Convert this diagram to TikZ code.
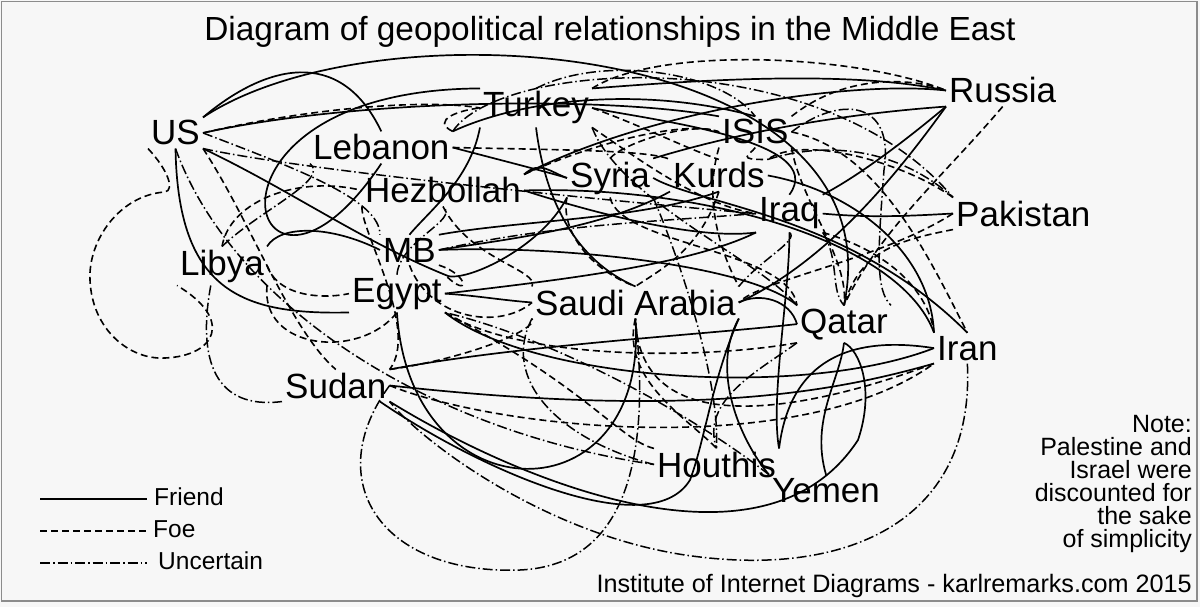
\documentclass[tikz,border=0pt]{standalone}
\usepackage{fontspec}
\setmainfont{Liberation Sans}
\definecolor{bgc}{RGB}{247,247,247}
\definecolor{framec}{RGB}{140,140,140}
\tikzset{
  lbl/.style={font=\fontsize{35}{40}\selectfont, inner sep=3pt, anchor=base west},
  lgd/.style={font=\fontsize{24.5}{28}\selectfont, inner sep=0pt, anchor=base west},
  fr/.style={line width=1.7pt},
  fo/.style={line width=1.6pt, dash pattern=on 7pt off 4pt},
  un/.style={line width=1.5pt, dash pattern=on 10pt off 3pt on 1.5pt off 3pt},
}
\begin{document}
\begin{tikzpicture}[x=1pt,y=-1pt]
\useasboundingbox (0,0) rectangle (1200,607);
\fill[bgc] (0,0) rectangle (1200,607);
\draw[framec, line width=1.2pt] (1.5,1.5) rectangle (1197,601);

% title
\node[font=\fontsize{33.4}{38}\selectfont, inner sep=0pt, anchor=base] (title) at (610,41) {Diagram of geopolitical relationships in the Middle East};

% labels
\node[lbl] (us)   at (148,145) {US};
\node[lbl] (leb)  at (310,160) {Lebanon};
\node[lbl] (tur)  at (480,117) {Turkey};
\node[lbl] (isis) at (719,144) {ISIS};
\node[lbl] (rus)  at (946,103) {Russia};
\node[lbl] (hez)  at (362,203) {Hezbollah};
\node[lbl] (syr)  at (567,187) {Syria};
\node[lbl] (kur)  at (670,188) {Kurds};
\node[lbl] (irq)  at (756,222) {Iraq};
\node[lbl] (pak)  at (953,226) {Pakistan};
\node[lbl] (mb)   at (380,262) {MB};
\node[lbl] (lib)  at (177,275) {Libya};
\node[lbl] (egy)  at (349,302) {Egypt};
\node[lbl] (sau)  at (532,315) {Saudi Arabia};
\node[lbl] (qat)  at (797,333) {Qatar};
\node[lbl] (ira)  at (934,360) {Iran};
\node[lbl] (sud)  at (282,398) {Sudan};
\node[lbl] (hou)  at (654,477) {Houthis};
\node[lbl] (yem)  at (769,502) {Yemen};

% ---------- US
\draw[fr] (us.north east) .. controls (265,65) and (340,45) .. (leb.north);
\draw[fr] (us.north east) .. controls (380,0) and (900,40) .. (qat.north);
\draw[fo] (us.east) .. controls (300,110) and (420,98) .. (tur.west);
\draw[fr] (us.east) .. controls (350,100) and (600,95) .. (isis.north west);
\draw[un] (us.south east) .. controls (300,170) and (600,200) .. (irq.west);
\draw[un] (us.east) .. controls (300,170) and (380,200) .. (mb.north west);
\draw[fr] (us.south east) .. controls (290,190) and (360,240) .. (egy.north east);
\draw[fo] (us.south east) .. controls (250,220) and (290,330) .. (sud.north);
\draw[fr] (us.south) .. controls (178,290) and (240,315) .. (egy.south west);
\draw[un] (us.south) .. controls (230,300) and (420,430) .. (hou.west);
\draw[fo] (us.south west) .. controls (168,170) and (175,190) .. (165,192)
   .. controls (120,195) and (88,240) .. (90,280)
   .. controls (92,330) and (130,360) .. (165,358)
   .. controls (215,356) and (235,320) .. (lib.south west);

% ---------- Libya
\draw[un] (lib.-120) .. controls (197,360) and (215,410) .. (sud.south west);
\draw[fr] (lib.north east) .. controls (280,225) and (330,225) .. (mb.west);
\draw[fo] (lib.north) .. controls (230,200) and (300,175) .. (hez.west);
\draw[fo] (lib.east) .. controls (280,300) and (330,298) .. (egy.west);
\draw[fo] (lib.south east) .. controls (260,350) and (360,360) .. (egy.south);
\draw[un] (lib.north) .. controls (260,210) and (330,180) .. (leb.south west);

% ---------- Lebanon
\draw[fr] (leb.south) .. controls (250,360) and (170,90) .. (tur.north west);
\draw[un] (leb.north east) .. controls (500,60) and (820,40) .. (pak.north west);
\draw[fo] (leb.north east) .. controls (430,120) and (460,110) .. (tur.west);
\draw[fr] (leb.north east) .. controls (520,100) and (640,85) .. (isis.north);
\draw[fr] (leb.east) .. controls (500,160) and (540,170) .. (syr.west);
\draw[fo] (leb.east) .. controls (560,150) and (650,150) .. (kur.north west);

% ---------- Turkey
\draw[fr] (tur.east) .. controls (650,120) and (830,140) .. (irq.north);
\draw[fr] (tur.south) .. controls (545,200) and (575,260) .. (sau.north);
\draw[fr] (tur.south west) .. controls (470,180) and (430,210) .. (mb.north);
\draw[fr] (tur.north east) .. controls (700,80) and (850,70) .. (rus.west);
\draw[fo] (tur.north east) .. controls (660,45) and (860,55) .. (rus.west);
\draw[un] (tur.north) .. controls (600,55) and (720,70) .. (isis.north);
\draw[fo] (tur.east) .. controls (640,125) and (690,150) .. (kur.north);
\draw[fo] (tur.south east) .. controls (640,160) and (700,205) .. (irq.west);
\draw[un] (tur.south east) .. controls (620,200) and (760,260) .. (qat.north west);

% ---------- Hezbollah
\draw[fr] (hez.east) .. controls (600,215) and (700,240) .. (irq.south west);
\draw[fr] (hez.east) .. controls (700,185) and (900,240) .. (ira.north west);
\draw[fr] (hez.north east) .. controls (650,110) and (850,80) .. (rus.west);
\draw[fo] (hez.south) .. controls (470,260) and (540,270) .. (sau.north west);
\draw[fr] (hez.north east) .. controls (540,160) and (550,172) .. (syr.west);
\draw[fo] (hez.north east) .. controls (600,140) and (690,120) .. (isis.west);
\draw[fo] (hez.south west) .. controls (360,230) and (420,330) .. (sud.north east);

% ---------- Syria
\draw[fr] (syr.east) .. controls (700,205) and (850,215) .. (ira.north);
\draw[fr] (syr.north east) .. controls (780,120) and (900,110) .. (rus.south west);
\draw[fo] (syr.south) .. controls (620,245) and (790,250) .. (qat.north west);
\draw[fo] (syr.south west) .. controls (560,230) and (590,270) .. (sau.north);
\draw[fo] (syr.north) .. controls (620,145) and (690,120) .. (isis.west);
\draw[fr] (syr.south west) .. controls (540,250) and (460,285) .. (egy.north east);
\draw[un] (syr.south east) .. controls (680,260) and (720,380) .. (hou.north);

% ---------- ISIS
\draw[fo] (isis.east) .. controls (880,150) and (930,260) .. (ira.north);
\draw[fo] (isis.south) .. controls (750,155) and (735,160) .. (kur.north east);
\draw[fo] (isis.north east) .. controls (850,70) and (920,80) .. (rus.west);
\draw[fo] (isis.south west) .. controls (700,210) and (730,270) .. (sau.north east);
\draw[un] (isis.east) .. controls (840,95) and (895,100) .. (884,170)
   .. controls (878,250) and (875,290) .. (qat.north east);
\draw[fo] (isis.south east) .. controls (800,200) and (850,260) .. (qat.north);

% ---------- Kurds
\draw[fo] (kur.south) .. controls (700,250) and (660,270) .. (sau.north);
\draw[fr] (kur.east) .. controls (850,190) and (930,250) .. (ira.north west);
\draw[fr] (kur.south west) .. controls (600,230) and (500,240) .. (mb.east);
\draw[un] (kur.north east) .. controls (830,140) and (900,150) .. (pak.north west);

% ---------- Iraq / Russia
\draw[fr] (irq.east) .. controls (870,218) and (910,216) .. (pak.west);
\draw[fr] (irq.north east) .. controls (870,170) and (930,120) .. (rus.south west);
\draw[fr] (rus.south west) .. controls (900,170) and (830,260) .. (sau.east);
\draw[fo] (rus.south) .. controls (940,180) and (880,230) .. (qat.north);
\draw[fr] (irq.south west) .. controls (690,265) and (560,280) .. (egy.east);
\draw[fr] (irq.south) .. controls (790,290) and (770,400) .. (hou.north east);
\draw[fo] (irq.south east) .. controls (900,255) and (930,300) .. (ira.north west);
\draw[un] (mb.east) .. controls (550,225) and (650,222) .. (irq.west);
\draw[un] (irq.south east) .. controls (840,260) and (830,290) .. (qat.north);

% ---------- Pakistan
\draw[fo] (pak.north west) .. controls (900,160) and (800,135) .. (kur.north east);
\draw[fo] (pak.south west) .. controls (900,240) and (860,250) .. (qat.north);
\draw[fo] (pak.west) .. controls (880,260) and (760,280) .. (sau.east);

% ---------- MB
\draw[fr] (mb.east) .. controls (560,245) and (750,265) .. (qat.north west);
\draw[fo] (mb.south) .. controls (430,320) and (500,330) .. (sau.west);
\draw[fo] (mb.south east) .. controls (470,275) and (470,300) .. (egy.north east);
\draw[fr] (mb.north east) .. controls (520,220) and (640,220) .. (kur.south);

% ---------- Egypt
\draw[fr] (egy.east) .. controls (480,296) and (500,300) .. (sau.west);
\draw[fr] (egy.south) .. controls (410,520) and (650,520) .. (sau.south);
\draw[fo] (egy.south east) .. controls (520,360) and (700,360) .. (qat.south west);
\draw[fr] (egy.south east) .. controls (530,380) and (800,400) .. (ira.west);
\draw[un] (egy.north) .. controls (400,240) and (460,220) .. (hez.south);

% ---------- Saudi Arabia
\draw[fo] (sau.south) .. controls (620,380) and (690,420) .. (hou.north);
\draw[fr] (sau.south east) .. controls (710,370) and (740,440) .. (yem.north west);
\draw[fr] (sau.east) .. controls (760,292) and (790,300) .. (qat.west);
\draw[fo] (ira.south west) .. controls (850,395) and (640,460) .. (sau.south);
\draw[un] (sau.north east) .. controls (760,260) and (800,240) .. (irq.south);
\draw[un] (sau.south west) .. controls (500,380) and (560,440) .. (hou.west);

% ---------- Qatar
\draw[fr] (sud.south east) .. controls (500,470) and (760,590) .. (858,440)
   .. controls (875,390) and (860,350) .. (qat.south);
\draw[un] (qat.south west) .. controls (760,370) and (700,400) .. (hou.north);
\draw[fr] (qat.west) .. controls (700,335) and (520,345) .. (sud.north east);

% ---------- Iran
\draw[fr] (ira.west) .. controls (850,335) and (790,360) .. (hou.north east);
\draw[un] (ira.south) .. controls (975,520) and (850,575) .. (700,557)
   .. controls (550,540) and (420,440) .. (sud.south east);
\draw[fr] (ira.south west) .. controls (840,390) and (700,420) .. (sud.east);
\draw[fo] (sud.east) .. controls (500,430) and (800,460) .. (ira.south west);

% ---------- Sudan
\draw[un] (sud.east) .. controls (320,480) and (380,575) .. (520,570)
   .. controls (630,565) and (650,450) .. (sau.south);
\draw[fr] (sud.-20) .. controls (480,470) and (650,545) .. (690,480)
   .. controls (705,440) and (712,380) .. (sau.south east);
\draw[fo] (sud.north east) .. controls (460,360) and (540,330) .. (sau.south west);

% ---------- Yemen / Houthis
\draw[un] (yem.north west) .. controls (700,420) and (560,340) .. (egy.south east);
\draw[fr] (yem.north) .. controls (810,420) and (840,380) .. (qat.south);
\draw[fo] (hou.north west) .. controls (620,440) and (590,390) .. (egy.south east);

% legend
\coordinate (lfa) at (40,499);
\coordinate (lfb) at (147,499);
\coordinate (loa) at (40,531);
\coordinate (lob) at (147,531);
\coordinate (lua) at (40,563);
\coordinate (lub) at (147,563);
\node[lgd] (tfriend) at (154,505) {Friend};
\node[lgd] (tfoe) at (153,537) {Foe};
\node[lgd] (tunc) at (158,569) {Uncertain};
\draw[fr] (lfa) -- (lfb);
\draw[fo] (loa) -- (lob);
\draw[un] (lua) -- (lub);

% note and footer
\node[font=\fontsize{25}{23}\selectfont, align=right, inner sep=0pt, anchor=north east] (note) at (1192,415)
  {Note:\\Palestine and\\Israel were\\discounted for\\the sake\\of simplicity};
\node[font=\fontsize{25.2}{28}\selectfont, inner sep=0pt, anchor=base east] (footer) at (1192,592)
  {Institute of Internet Diagrams - karlremarks.com 2015};
\end{tikzpicture}
\end{document}
